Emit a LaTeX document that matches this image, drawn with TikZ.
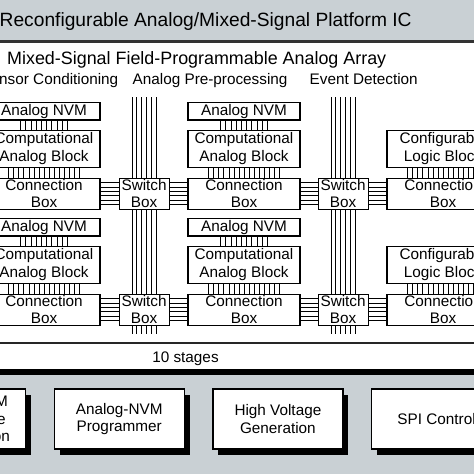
\documentclass[tikz,border=0pt]{standalone}
\usepackage{fontspec}
\setmainfont{Liberation Sans}
\usetikzlibrary{positioning, shadows, scopes}
\definecolor{panel}{RGB}{201,208,212}
\newcommand{\bxfont}{\fontsize{15.3}{17.4}\selectfont}
\tikzset{
  bx/.style={draw, line width=1.1pt, inner sep=0pt, minimum width=112pt, align=center, font=\bxfont},
  nvm/.style={bx, minimum height=17.5pt},
  cab/.style={bx, minimum height=37pt},
  cb/.style={bx, minimum height=31pt},
  sw/.style={bx, minimum width=50pt, minimum height=31pt},
  ctl/.style={draw, line width=1.2pt, fill=white, inner sep=0pt, minimum width=130pt, minimum height=60pt,
    align=center, font=\bxfont, drop shadow={shadow xshift=5.5pt, shadow yshift=-5.5pt, fill=black, opacity=1}},
  lbl/.style={inner sep=0pt, font=\bxfont}
}

\begin{document}
\begin{tikzpicture}[x=1pt, y=-1pt, line/.style={line width=0.9pt}]
  \useasboundingbox (0,0) rectangle (474,474);
  \clip (0,0) rectangle (474,474);

  % platform header and bottom panel
  \fill[panel] (0,0) rectangle (474,41.5);
  \draw[line width=3pt, black!80] (0,41.5) -- (474,41.5);
  \node[inner sep=0pt, anchor=base west, font=\fontsize{19.2}{22}\selectfont] (title) at (-0.5,26.7)
    {Reconfigurable Analog/Mixed-Signal Platform IC};
  \node[inner sep=0pt, anchor=base west, font=\fontsize{17.9}{21}\selectfont] (fpaa) at (7,64)
    {Mixed-Signal Field-Programmable Analog Array};
  \node[lbl, anchor=base east] (sens) at (118.5,84) {Sensor Conditioning};
  \node[lbl, anchor=base west] (prep) at (132.5,84) {Analog Pre-processing};
  \node[lbl, anchor=base west] (evt) at (309.5,84) {Event Detection};

  % FPAA columns
  \foreach \r/\y in {1/111.25, 2/227.25} {
    \node[nvm] (nvmA\r) at (44,\y) {Analog NVM};
    \node[cab, below=9pt of nvmA\r] (cabA\r) {Computational\\Analog Block};
    \node[cb, below=10pt of cabA\r] (cbA\r) {Connection\\Box};
    \node[sw, right=18pt of cbA\r] (swA\r) {Switch\\Box};
    \node[nvm] (nvmB\r) at (244,\y) {Analog NVM};
    \node[cab, below=9pt of nvmB\r] (cabB\r) {Computational\\Analog Block};
    \node[cb, below=10pt of cabB\r] (cbB\r) {Connection\\Box};
    \node[sw, right=17pt of cbB\r] (swB\r) {Switch\\Box};
    \node[cab, below=9pt of nvmB\r, xshift=199pt] (cabC\r) {Configurable\\Logic Block};
    \node[cb, below=10pt of cabC\r] (cbC\r) {Connection\\Box};
  }

  % local buses
  {[line]
  \foreach \c in {A,B} \foreach \r in {1,2} {
    \foreach \i in {0,...,9}
      \draw ([xshift=33pt+\i*5.2pt]nvm\c\r.south west) -- ([xshift=33pt+\i*5.2pt]cab\c\r.north west);
  }
  \foreach \c in {A,B,C} \foreach \r in {1,2} {
    \foreach \i in {0,...,14}
      \draw ([xshift=21pt+\i*5.07pt]cab\c\r.south west) -- ([xshift=21pt+\i*5.07pt]cb\c\r.north west);
  }
  }

  % routing through the switch boxes
  \coordinate (bustop) at (0,97);
  \coordinate (busbot) at (0,333.5);
  {[line]
  \foreach \c/\n in {A/B, B/C} {
    \coordinate (top\c) at (sw\c1.north |- bustop);
    \coordinate (bot\c) at (sw\c2.south |- busbot);
    \foreach \j in {-2.5,-1.5,...,2.5} {
      \foreach \r in {1,2} {
        \draw ([yshift=\j*4.4pt]cb\c\r.east) -- ([yshift=\j*4.4pt]sw\c\r.west);
        \draw ([yshift=\j*4.4pt]sw\c\r.east) -- ([yshift=\j*4.4pt]cb\n\r.west);
      }
      \draw ([xshift=\j*4.8pt]top\c) -- ([xshift=\j*4.8pt]sw\c1.north);
      \draw ([xshift=\j*4.8pt]sw\c1.south) -- ([xshift=\j*4.8pt]sw\c2.north);
      \draw ([xshift=\j*4.8pt]sw\c2.south) -- ([xshift=\j*4.8pt]bot\c);
    }
  }
  }

  \draw[line width=1.5pt, black!85] (0,343) -- (474,343);
  \node[lbl, anchor=base] (stages) at (185.5,362) {10 stages};

  % support blocks
  \fill[panel] (0,372) rectangle (474,474);
  \draw[line width=5.5pt] (0,372.2) -- (474,372.2);
  \node[ctl] (mem) at (-39.5,419) {};
  \node[lbl, align=center] (memtxt) at (1.5,419) {M\\e\\on};
  \node[ctl, right=27.5pt of mem] (prog) {Analog-NVM\\Programmer};
  \node[ctl, right=27.5pt of prog] (hv) {High Voltage\\Generation};
  \node[ctl, right=27.5pt of hv] (spi) {SPI Control};
\end{tikzpicture}
\end{document}
